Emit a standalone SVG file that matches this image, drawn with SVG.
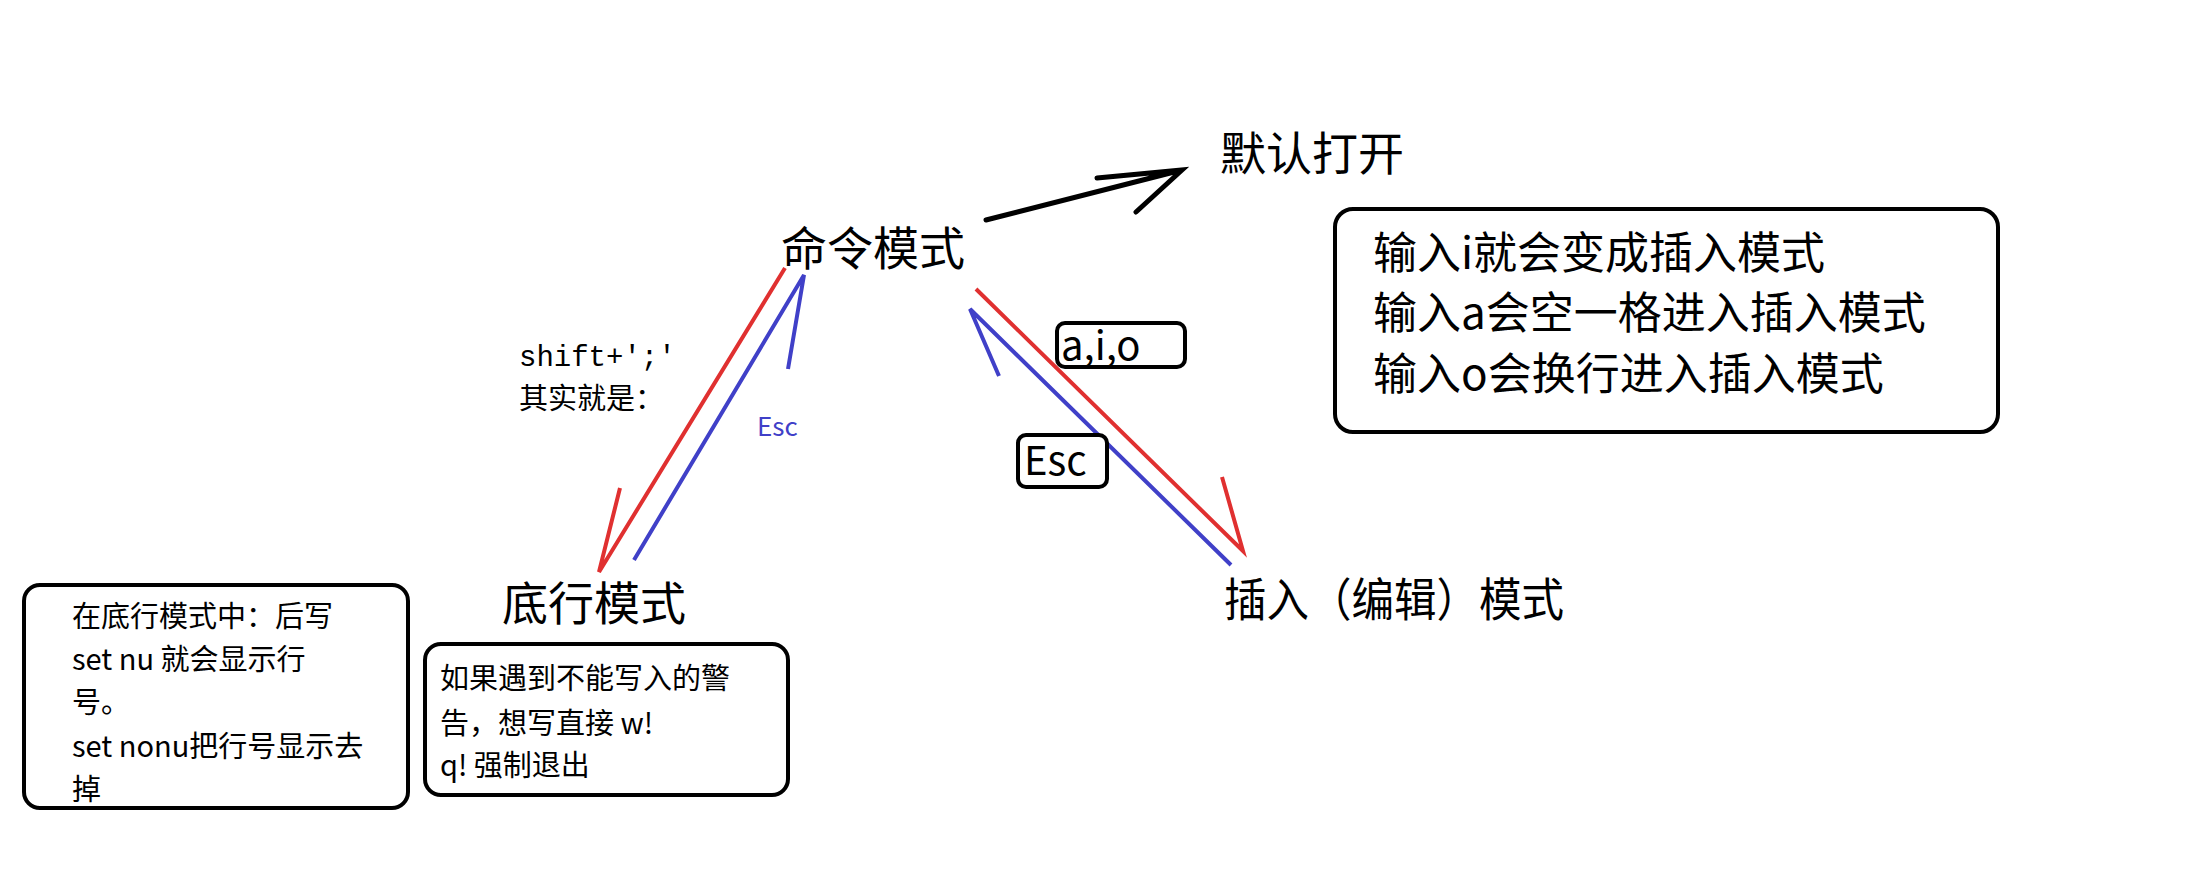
<svg xmlns="http://www.w3.org/2000/svg" width="2186" height="890" viewBox="0 0 2186 890">
<style>
text{font-family:"Noto Sans CJK SC","Liberation Sans",sans-serif;fill:#000}
.big{font-size:46px}
.mid{font-size:44px}
.sm{font-size:29px}
.box{fill:none;stroke:#000;stroke-width:4}
.r{stroke:#e03030;stroke-width:4;fill:none}
.b{stroke:#4040c8;stroke-width:4;fill:none}
.k{stroke:#000;stroke-width:5;fill:none;stroke-linecap:round}
</style>
<rect width="2186" height="890" fill="#fff"/>
<g id="cmd"><text class="big" x="781" y="265">命令模式</text></g>
<g id="default"><text class="big" x="1220" y="170">默认打开</text></g>
<g id="insert"><text class="big" x="1224" y="616" textLength="340" lengthAdjust="spacingAndGlyphs">插入（编辑）模式</text></g>
<g id="bottom"><text class="big" x="502" y="620">底行模式</text></g>
<g id="note-insert">
<rect class="box" x="1335" y="209" width="663" height="223" rx="18"/>
<text class="mid" x="1373" y="269">输入i就会变成插入模式</text>
<text class="mid" x="1373" y="329">输入a会空一格进入插入模式</text>
<text class="mid" x="1373" y="390">输入o会换行进入插入模式</text>
</g>
<g id="note-bottom">
<rect class="box" x="24" y="585" width="384" height="223" rx="16"/>
<text class="sm" x="72" y="627">在底行模式中：后写</text>
<text class="sm" x="72" y="670">set nu 就会显示行</text>
<text class="sm" x="72" y="713">号。</text>
<text class="sm" x="72" y="757">set nonu把行号显示去</text>
<text class="sm" x="72" y="800">掉</text>
</g>
<g id="note-warn">
<rect class="box" x="425" y="644" width="363" height="151" rx="16"/>
<text class="sm" x="440" y="689">如果遇到不能写入的警</text>
<text class="sm" x="440" y="734">告，想写直接 w!</text>
<text class="sm" x="440" y="776">q! 强制退出</text>
</g>
<g id="connectors">
<path class="k" d="M986 220 L1182 170 M1097 178 L1182 170 L1136 212"/>
<path class="r" d="M785 268 L599 572 L620 488"/>
<path class="b" d="M634 560 L804 275 L788 369"/>
<path class="r" d="M976 289 L1243 551 L1222 477"/>
<path class="b" d="M1231 565 L970 309 L999 376"/>
<text x="519" y="366" style="font-family:'Liberation Mono',monospace;font-size:29px">shift+';'</text>
<text class="sm" x="519" y="409">其实就是：</text>
<text x="757" y="436" style="font-size:26px;fill:#4040c8">Esc</text>
<rect class="box" x="1057" y="323" width="128" height="44" rx="8" style="fill:#fff"/>
<text x="1061" y="360" style="font-size:40px">a,i,o</text>
<rect class="box" x="1018" y="435" width="89" height="52" rx="8" style="fill:#fff"/>
<text x="1024" y="475" style="font-size:40px">Esc</text>
</g>
</svg>
